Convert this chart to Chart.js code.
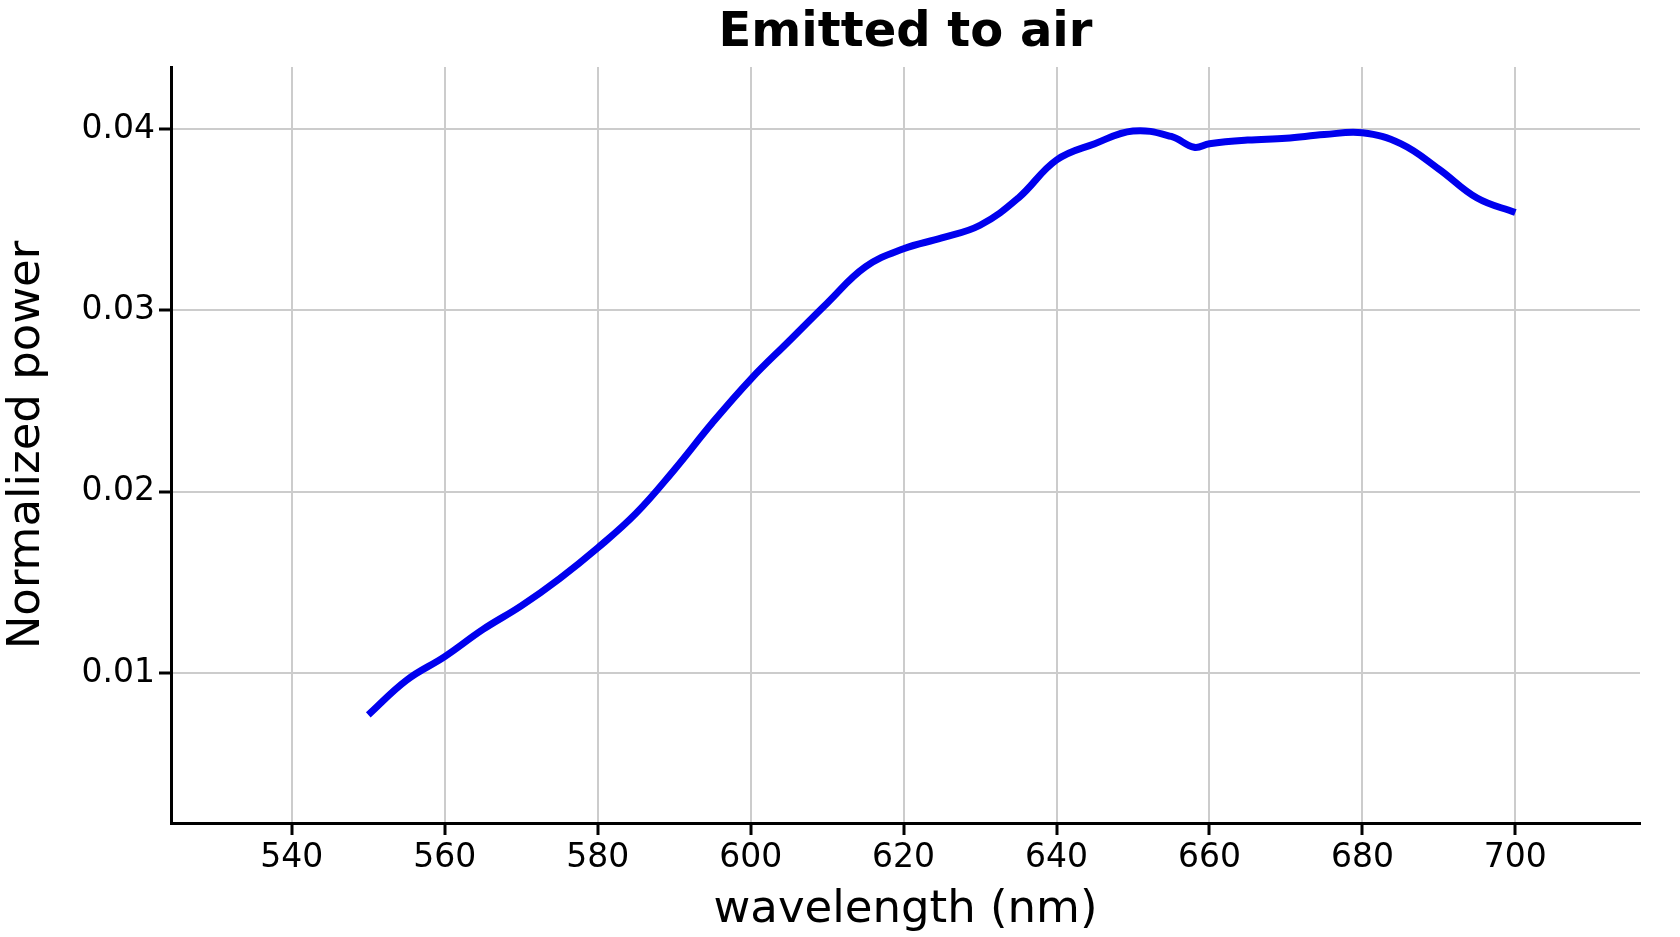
<!DOCTYPE html>
<html><head><meta charset="utf-8">
<script src="https://cdn.jsdelivr.net/npm/chart.js@4"></script>
<style>html,body{margin:0;padding:0;background:#fff}#w{width:1680px;height:937px}</style>
</head><body><div id="w"><canvas id="c"></canvas></div>
<script>
const wavelengths=[550,555,560,565,570,575,580,585,590,595,600,605,610,615,620,625,630,635,640,645,650,655,658,660,665,670,675,680,685,690,695,700];
const power=[0.00769,0.0096,0.0109,0.0124,0.0137,0.0152,0.0169,0.0188,0.0212,0.0238,0.0262,0.0283,0.0304,0.0324,0.0334,0.0340,0.0347,0.0362,0.0383,0.0392,0.0399,0.0396,0.0390,0.0392,0.0394,0.0395,0.0397,0.0398,0.0392,0.0378,0.0362,0.0354];
const xTicks=[540,560,580,600,620,640,660,680,700];
const yTicks=[0.01,0.02,0.03,0.04];
const titleText='Emitted to air';
const F='DejaVu Sans';
const titlePlugin={id:'areaTitle',afterDraw(ch){const c=ch.ctx,a=ch.chartArea;c.save();c.font='bold 48px "'+F+'"';c.fillStyle='#000';c.textAlign='center';c.textBaseline='middle';c.fillText(titleText,(a.left+a.right)/2,34);c.restore();}};
new Chart(document.getElementById('c'),{
type:'line',
data:{datasets:[{data:wavelengths.map((x,i)=>({x,y:power[i]})),borderColor:'#0000ee',borderWidth:7,pointRadius:0,tension:0.4,fill:false}]},
plugins:[titlePlugin],
options:{responsive:true,maintainAspectRatio:false,animation:false,
layout:{padding:{left:0,right:40,top:67,bottom:0}},
plugins:{legend:{display:false},tooltip:{enabled:false},title:{display:false}},
scales:{
x:{type:'linear',min:524.2,max:716.3,
afterBuildTicks:a=>{a.ticks=xTicks.map(v=>({value:v}));},
afterFit:a=>{a.height=114;},
grid:{color:'#cccccc',lineWidth:2,tickColor:'#000',tickLength:12,tickWidth:3},
border:{color:'#000',width:3},
ticks:{color:'#000',font:{family:F,size:33},padding:4},
title:{display:true,text:'wavelength (nm)',color:'#000',font:{family:F,size:45},padding:0}},
y:{min:0.00172,max:0.04343,
afterBuildTicks:a=>{a.ticks=yTicks.map(v=>({value:v}));},
afterFit:a=>{a.width=171;},
grid:{color:'#cccccc',lineWidth:2,tickColor:'#000',tickLength:12,tickWidth:3},
border:{color:'#000',width:3},
ticks:{color:'#000',font:{family:F,size:33},padding:4,callback:v=>v.toFixed(2)},
title:{display:true,text:'Normalized power',color:'#000',font:{family:F,size:45},padding:0}}
}}});
</script></body></html>
